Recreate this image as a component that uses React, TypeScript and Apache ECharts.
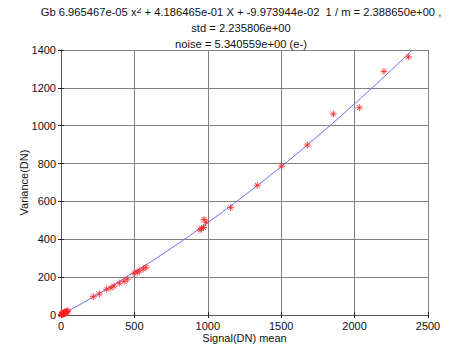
import React, { useEffect, useRef } from "react";
import * as echarts from "echarts";

const signalMean = [
  2, 4, 5, 7, 8, 10, 12, 14, 15, 17, 19, 21, 23, 25, 28, 31, 34, 38, 42, 46,
  220, 261, 311, 340, 361, 397, 430, 452, 497, 520, 533, 560, 579,
  947, 958, 970, 974, 988, 1156, 1337, 1503, 1678, 1855, 2032, 2200, 2366,
];
const variance = [
  1, 3, 2, 5, 4, 6, 5, 8, 7, 9, 10, 9, 12, 11, 13, 15, 16, 18, 19, 21,
  97, 111, 136, 143, 153, 168, 178, 189, 220, 226, 234, 243, 252,
  449, 458, 462, 505, 490, 567, 685, 787, 898, 1062, 1095, 1287, 1364,
];
const fitX = [0, 250, 500, 750, 1000, 1250, 1500, 1750, 2000, 2250, 2390];
const fitY = [0, 109, 227, 352, 488, 632, 784, 946, 1116, 1294, 1398];

const xTicks = { min: 0, max: 2500, interval: 500 };
const yTicks = { min: 0, max: 1400, interval: 200 };

const titleLines = [
  "Gb 6.965467e-05 x{sup|2} + 4.186465e-01 X + -9.973944e-02  1 / m = 2.388650e+00 ,",
  "std = 2.235806e+00",
  "noise = 5.340559e+00 (e-)",
];

const asterisk =
  "path://M0,-5L0,5M-5,0L5,0M-3.5,-3.5L3.5,3.5M-3.5,3.5L3.5,-3.5";

export default function App() {
  const ref = useRef<HTMLDivElement>(null);
  useEffect(() => {
    if (!ref.current) return;
    const chart = echarts.init(ref.current, undefined, { renderer: "svg" });
    const font = "Liberation Sans, Arial, sans-serif";
    const plain = (v: number) => String(v);
    const axisCommon = {
      axisLine: { show: true, lineStyle: { color: "#555", width: 1 } },
      axisTick: { show: true, inside: true, length: 3, lineStyle: { color: "#222" } },
    };
    chart.setOption({
      animation: false,
      backgroundColor: "#fff",
      grid: { left: 61, right: 46, top: 50, bottom: 40, show: false },
      graphic: titleLines.map((t, i) => ({
        type: "text",
        x: 241,
        y: [12, 28, 44][i],
        style: {
          text: t,
          align: "center",
          verticalAlign: "middle",
          fill: "#111",
          font: `11.2px ${font}`,
          rich: { sup: { fontSize: 9, verticalAlign: "top", padding: [0, 0, 5, 0], fill: "#111" } },
        },
      })),
      xAxis: [
        {
          type: "value",
          ...xTicks,
          position: "bottom",
          ...axisCommon,
          axisLabel: { color: "#111", fontSize: 11, fontFamily: font, margin: 5, formatter: plain },
          splitLine: { show: true, lineStyle: { color: "#808080", width: 1 } },
          name: "Signal(DN) mean",
          nameLocation: "middle",
          nameGap: 17,
          nameMoveOverlap: false,
          nameTextStyle: { color: "#111", fontSize: 11, fontFamily: font },
        },
        {
          type: "value",
          ...xTicks,
          position: "top",
          ...axisCommon,
          axisLabel: { show: false },
          splitLine: { show: false },
        },
      ],
      yAxis: [
        {
          type: "value",
          ...yTicks,
          position: "left",
          ...axisCommon,
          axisLabel: { color: "#111", fontSize: 11, fontFamily: font, margin: 5, formatter: plain },
          splitLine: { show: true, lineStyle: { color: "#808080", width: 1 } },
          name: "Variance(DN)",
          nameLocation: "middle",
          nameGap: 32,
          nameMoveOverlap: false,
          nameTextStyle: { color: "#111", fontSize: 11, fontFamily: font },
        },
        {
          type: "value",
          ...yTicks,
          position: "right",
          ...axisCommon,
          axisLabel: { show: false },
          splitLine: { show: false },
        },
      ],
      series: [
        {
          type: "line",
          data: fitX.map((x, i) => [x, fitY[i]]),
          smooth: true,
          showSymbol: false,
          lineStyle: { color: "#6b6bff", width: 1 },
          z: 2,
        },
        {
          type: "scatter",
          data: signalMean.map((x, i) => [x, variance[i]]),
          symbol: asterisk,
          symbolSize: 7,
          itemStyle: { color: "none", borderColor: "#ff2020", borderWidth: 1 },
          z: 3,
        },
      ],
    });
    return () => chart.dispose();
  }, []);
  return <div ref={ref} style={{ width: 474, height: 355, margin: -8 }} />;
}
